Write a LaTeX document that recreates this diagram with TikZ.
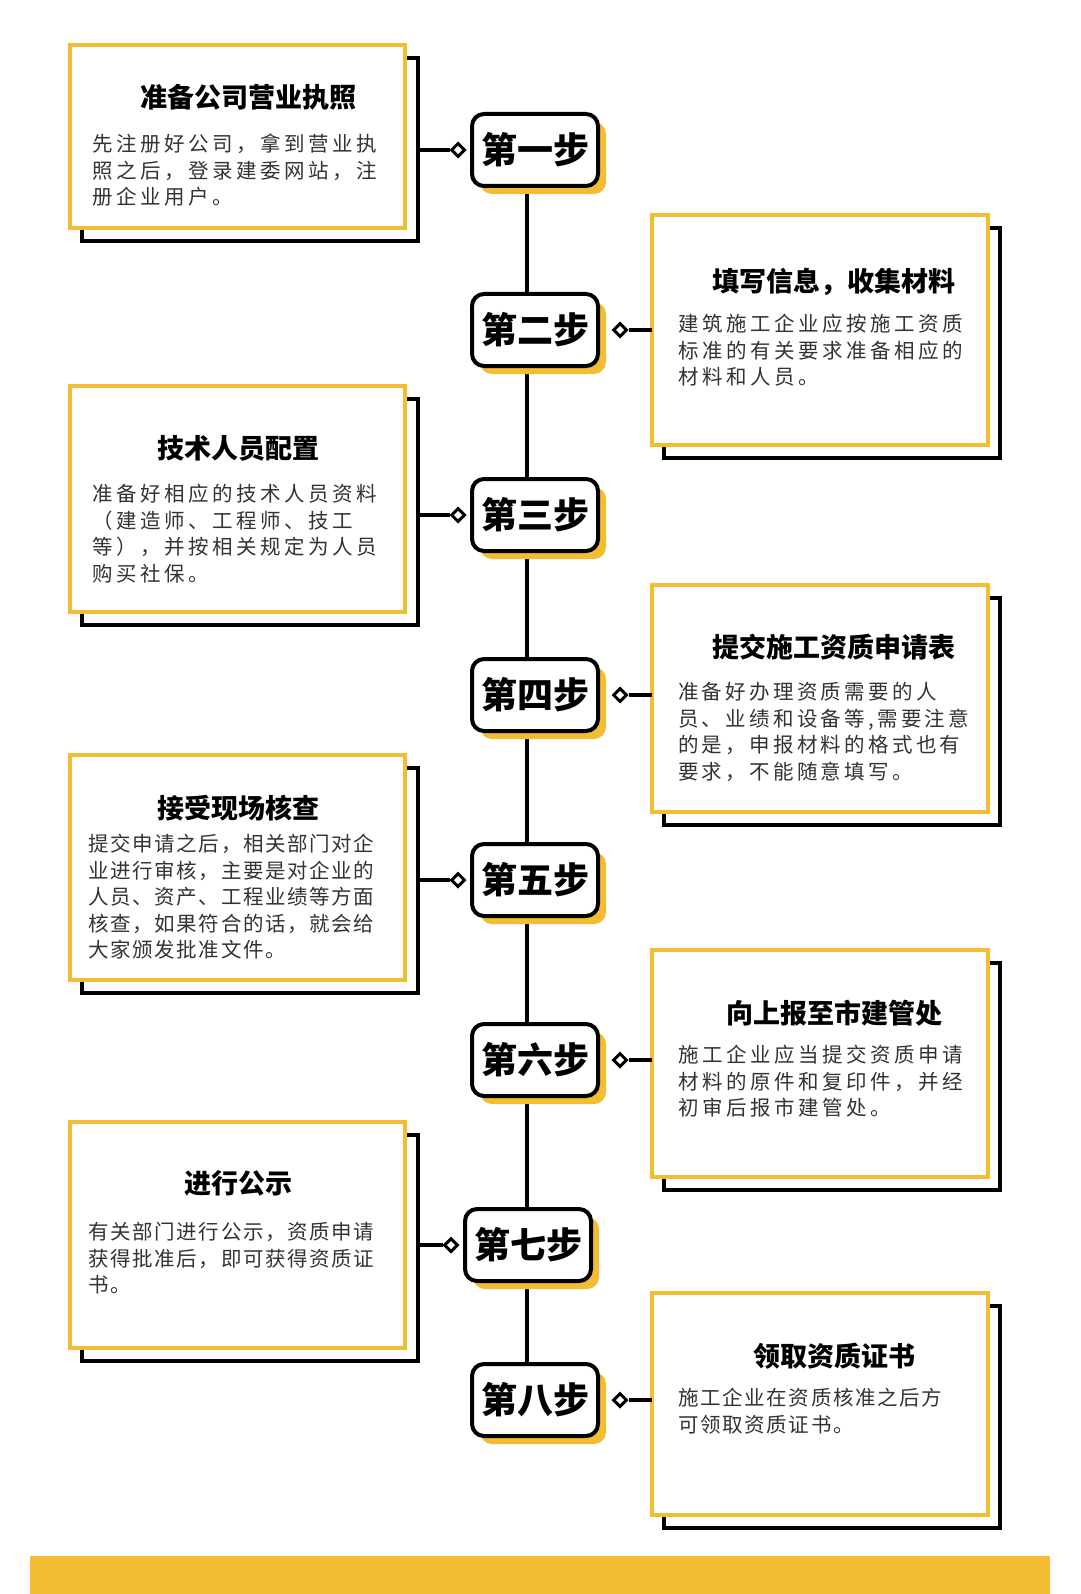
\documentclass[tikz,border=0pt]{standalone}
\usepackage{fontspec}
\setmainfont{Noto Sans CJK SC}
\usetikzlibrary{shapes.geometric}
\definecolor{ylw}{HTML}{F2BC33}
\definecolor{txt}{HTML}{333333}
\tikzset{
 shadowbox/.style={draw=black,line width=3.5pt},
 infobox/.style={draw=ylw,line width=4.5pt,fill=white},
 ttl/.style={font=\bfseries\fontsize{27}{30}\selectfont,anchor=center},
 body/.style={font=\fontsize{20.5}{26.5}\selectfont\addfontfeature{LetterSpace=#1},text=txt,align=left,anchor=north west,inner sep=0pt},
 body/.default=17,
 stepbox/.style={draw=black,line width=4pt,rounded corners=12pt,fill=white,minimum width=126pt,minimum height=72pt,font=\bfseries\fontsize{36}{40}\selectfont,inner sep=0pt},
 stepshadow/.style={fill=ylw,rounded corners=12pt,minimum width=126pt,minimum height=72pt},
 dia/.style={diamond,draw=black,line width=3pt,fill=white,minimum size=14pt,inner sep=0pt},
 conn/.style={line width=4pt},
}
\begin{document}
\begin{tikzpicture}[x=1pt,y=-1pt]
\useasboundingbox (0,0) rectangle (1080,1594);
\fill[white] (0,0) rectangle (1080,1594);
% spine
\draw[conn] (527,150) -- (527,1400);
% bottom bar
\fill[ylw] (30,1556) rectangle (1050,1594);
% left boxes
\foreach \t/\b [count=\i] in {45/228,386/612,755/980,1122/1348}{
 \draw[shadowbox] (82,\t+13) rectangle (418,\b+13);
 \draw[infobox] (70,\t) rectangle (405,\b);
}
\foreach \t/\b in {215/445,585/812,950/1177,1293/1515}{
 \draw[shadowbox] (664,\t+13) rectangle (1000,\b+13);
 \draw[infobox] (652,\t) rectangle (988,\b);
}
% step nodes
\foreach \n/\x/\y/\s in {s1/535/150/第一步,s2/535/330/第二步,s3/535/515/第三步,s4/535/695/第四步,s5/535/880/第五步,s6/535/1060/第六步,s7/528/1245/第七步,s8/535/1400/第八步}{
 \node[stepshadow] at (\x+8,\y+8) {};
 \node[stepbox] (\n) at (\x,\y) {\s};
}
% connectors left
\foreach \n/\y in {s1/150,s3/515,s5/880,s7/1245}{
 \coordinate (L\n) at (418,\y);
 \node[dia] (D\n) at ([xshift=-12pt]\n.west) {};
 \draw[conn] (L\n) -- (D\n.west);
}
\foreach \n/\y in {s2/330,s4/695,s6/1060,s8/1400}{
 \coordinate (R\n) at (652,\y);
 \node[dia] (D\n) at ([xshift=20pt]\n.east) {};
 \draw[conn] (D\n.east) -- (R\n);
}
% texts left
\node[ttl] (t1) at (248,97) {准备公司营业执照};
\node[body] (b1) at (92,134) {先注册好公司，拿到营业执\\照之后，登录建委网站，注\\册企业用户。};
\node[ttl] (t3) at (238,448) {技术人员配置};
\node[body] (b3) at (92,484) {准备好相应的技术人员资料\\（建造师、工程师、技工\\等），并按相关规定为人员\\购买社保。};
\node[ttl] (t5) at (238,808) {接受现场核查};
\node[body=8] (b5) at (88,834) {提交申请之后，相关部门对企\\业进行审核，主要是对企业的\\人员、资产、工程业绩等方面\\核查，如果符合的话，就会给\\大家颁发批准文件。};
\node[ttl] (t7) at (238,1183) {进行公示};
\node[body=8] (b7) at (88,1222) {有关部门进行公示，资质申请\\获得批准后，即可获得资质证\\书。};
% texts right
\node[ttl] (t2) at (834,282) {填写信息，收集材料};
\node[body] (b2) at (678,314) {建筑施工企业应按施工资质\\标准的有关要求准备相应的\\材料和人员。};
\node[ttl] (t4) at (834,647) {提交施工资质申请表};
\node[body=16] (b4) at (678,682) {准备好办理资质需要的人\\员、业绩和设备等,需要注意\\的是，申报材料的格式也有\\要求，不能随意填写。};
\node[ttl] (t6) at (834,1013) {向上报至市建管处};
\node[body] (b6) at (678,1045) {施工企业应当提交资质申请\\材料的原件和复印件，并经\\初审后报市建管处。};
\node[ttl] (t8) at (834,1356) {领取资质证书};
\node[body=8] (b8) at (678,1388) {施工企业在资质核准之后方\\可领取资质证书。};
\end{tikzpicture}
\end{document}
